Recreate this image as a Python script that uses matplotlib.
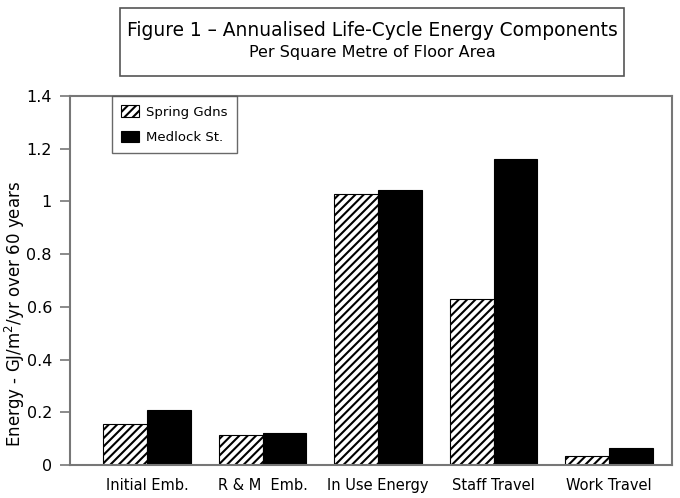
import matplotlib.pyplot as plt
import matplotlib.patches as patches
import numpy as np

plt.rcParams['hatch.linewidth'] = 1.5

categories = ['Initial Emb.', 'R & M  Emb.', 'In Use Energy', 'Staff Travel', 'Work Travel']
spring_gdns = [0.155, 0.115, 1.03, 0.63, 0.034]
medlock_st = [0.21, 0.12, 1.045, 1.16, 0.064]
y_ticks = [0, 0.2, 0.4, 0.6, 0.8, 1.0, 1.2, 1.4]
y_tick_labels = ['0', '0.2', '0.4', '0.6', '0.8', '1', '1.2', '1.4']

SPINE_COLOR = '#777777'

fig = plt.figure(figsize=(6.8, 4.98), dpi=100)
ax = fig.add_axes([70 / 680, 33 / 498, 602 / 680, 369 / 498])

x = np.arange(len(categories))
w = 0.38
ax.bar(x - w / 2, spring_gdns, w, facecolor='white', edgecolor='black',
       hatch='////', linewidth=0.8, label='Spring Gdns')
ax.bar(x + w / 2, medlock_st, w, facecolor='black', edgecolor='black',
       linewidth=0.8, label='Medlock St.')

ax.set_xlim(-0.667, 4.545)
ax.set_ylim(0, 1.4)
ax.set_xticks(x)
ax.set_xticklabels(categories, fontsize=10.5)
ax.tick_params(axis='x', length=0, pad=9)
ax.set_yticks(y_ticks)
ax.set_yticklabels(y_tick_labels, fontsize=11.5)
ax.tick_params(axis='y', length=7, width=1.2, color=SPINE_COLOR, pad=6)
for s in ax.spines.values():
    s.set_color(SPINE_COLOR)
    s.set_linewidth(1.5)

# y axis label, placed like the original (a bit below the axis centre)
fig.text(15 / 680, 1 - 314 / 498, 'Energy - GJ/m$^2$/yr over 60 years',
         rotation=90, ha='center', va='center', fontsize=12)

leg = ax.legend(loc='upper left', bbox_to_anchor=(0.07, 1.0), fontsize=9.5,
                frameon=True, fancybox=False, edgecolor='#444444',
                handlelength=1.3, handleheight=1.0, borderpad=0.7,
                labelspacing=0.9, handletextpad=0.6, borderaxespad=0)
leg.get_frame().set_linewidth(1.0)

# Title box
box = patches.Rectangle((120 / 680, 1 - 76 / 498), 504 / 680, 68 / 498,
                        transform=fig.transFigure, fill=False,
                        edgecolor='#555555', linewidth=1.2)
fig.patches.append(box)
fig.text(372 / 680, 1 - 30 / 498, 'Figure 1 \u2013 Annualised Life-Cycle Energy Components',
         ha='center', va='center', fontsize=13.4)
fig.text(372 / 680, 1 - 53 / 498, 'Per Square Metre of Floor Area',
         ha='center', va='center', fontsize=11.5)

fig.savefig('out.png', dpi=100)
